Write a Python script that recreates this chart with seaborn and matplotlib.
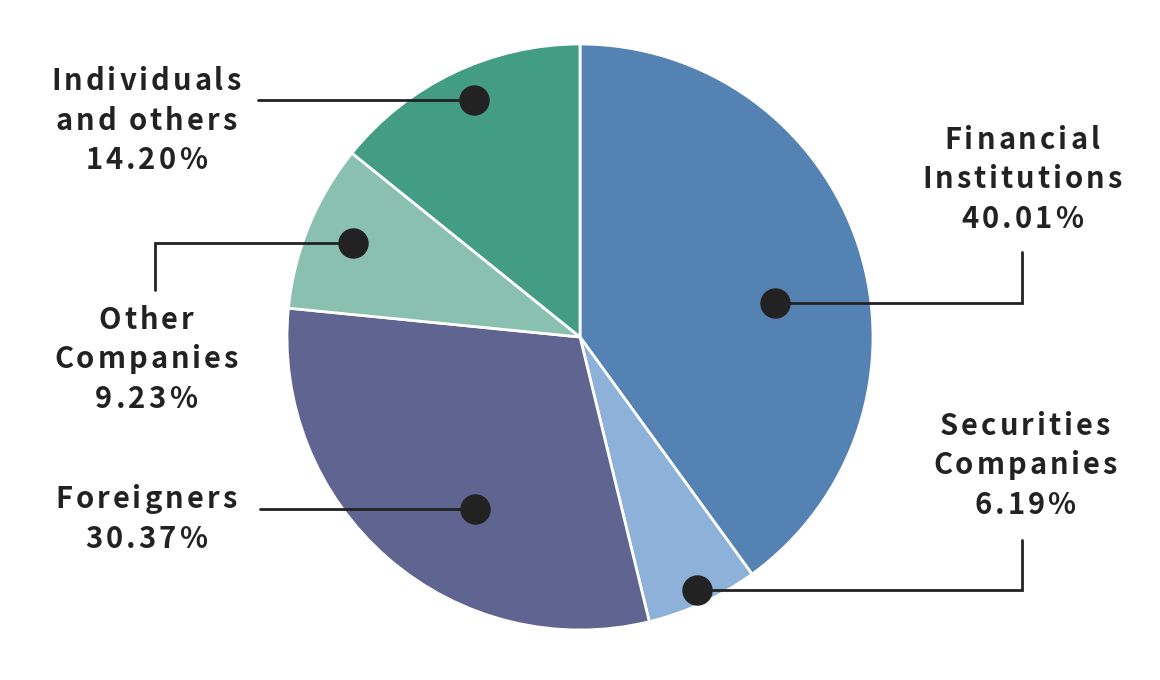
import matplotlib
matplotlib.use("Agg")
import matplotlib.pyplot as plt
import seaborn as sns
from matplotlib.font_manager import FontProperties

# Shareholder distribution
groups = ["Financial\nInstitutions", "Securities\nCompanies", "Foreigners",
          "Other\nCompanies", "Individuals\nand others"]
shares = [40.01, 6.19, 30.37, 9.23, 14.20]
colors = ["#5382B3", "#8DB1D9", "#5F6490", "#89C0B0", "#439C84"]

sns.set_style("white")
plt.rcParams["font.family"] = ["Noto Sans CJK JP", "DejaVu Sans"]

W, H = 1160, 680
fig = plt.figure(figsize=(11.6, 6.8), dpi=100)
ax = fig.add_axes([0, 0, 1, 1])

ink = "#222222"

ax.pie(shares, colors=colors, startangle=90, counterclock=False,
       center=(580, H - 337), radius=293,
       wedgeprops=dict(edgecolor="white", linewidth=2))

# pie() resets the limits, so set them afterwards
ax.set_xlim(0, W)
ax.set_ylim(0, H)
ax.set_aspect("equal")
ax.axis("off")

# leader lines: dot position then polyline (pixel coords, y from top)
leaders = [
    [(775, 303), (1022, 303), (1022, 252)],
    [(697, 590), (1022, 590), (1022, 540)],
    [(475, 509), (260, 509)],
    [(353, 243), (155, 243), (155, 290)],
    [(474, 100), (258, 100)],
]
# label centre x and first line y
label_pos = [(1022, 140), (1025, 426), (146, 499), (146, 320), (146, 81)]

for pts in leaders:
    xs = [p[0] for p in pts]
    ys = [H - p[1] for p in pts]
    ax.plot(xs, ys, color=ink, lw=2, solid_joinstyle="miter", zorder=3)
    ax.scatter([xs[0]], [ys[0]], s=480, color=ink, zorder=4, linewidths=0)

fp = FontProperties(family=["Noto Sans CJK JP", "DejaVu Sans"], size=21, weight="bold")
renderer = fig.canvas.get_renderer()
tracking = 3.0


def spaced_text(cx, cy, s):
    widths = [renderer.get_text_width_height_descent(ch, fp, ismath=False)[0] for ch in s]
    total = sum(widths) + tracking * (len(s) - 1)
    x = cx - total / 2
    for ch, w in zip(s, widths):
        ax.text(x, cy, ch, fontproperties=fp, color=ink, ha="left", va="center")
        x += w + tracking


for name, val, (cx, cy) in zip(groups, shares, label_pos):
    lines = name.split("\n") + [f"{val:.2f}%"]
    for i, line in enumerate(lines):
        spaced_text(cx, H - (cy + 39.5 * i), line)

fig.savefig("out.png", dpi=100, facecolor="white")
